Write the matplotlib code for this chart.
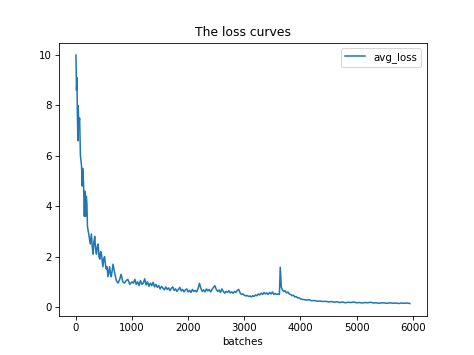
import matplotlib

matplotlib.use("Agg")
import matplotlib.pyplot as plt

early_batches = [
    0, 10, 18, 25, 35, 40, 50, 65, 80, 90,
    100, 110, 120, 135, 150, 160, 170, 185, 195, 205,
    220, 235, 255, 275, 290, 305, 320, 335, 350, 365,
    380, 395, 410, 425, 440, 455, 470, 480, 495, 510,
    525, 540, 555, 570, 585, 600, 615, 630, 660, 690,
    720, 750, 780, 805, 835, 865, 895, 925, 960, 1000,
]
early_loss = [
    10.0, 8.6, 9.1, 7.7, 6.6, 8.0, 7.2, 7.5, 6.0, 5.8,
    5.6, 4.8, 5.5, 4.9, 3.6, 4.6, 3.6, 4.4, 4.1, 3.2,
    3.0, 2.8, 2.5, 2.9, 2.4, 2.1, 2.6, 2.8, 2.3, 2.1,
    2.4, 2.5, 2.0, 1.9, 2.2, 2.1, 1.8, 1.6, 1.9, 2.0,
    1.7, 1.5, 1.6, 1.2, 1.4, 1.6, 1.3, 1.2, 1.7, 1.35,
    1.05, 0.95, 1.1, 1.3, 1.0, 0.95, 1.05, 1.1, 0.9, 1.0,
]

# every 25 batches from 1025 to 3625
mid_batches = list(range(1025, 3650, 25))
mid_loss = [
    0.95, 1.1, 0.9, 1.0, 0.85, 1.05, 0.9, 0.95, 1.12, 0.88,
    1.0, 0.82, 0.95, 0.85, 0.98, 0.8, 0.9, 0.78, 0.85, 0.72,
    0.82, 0.75, 0.68, 0.8, 0.7, 0.76, 0.65, 0.74, 0.8, 0.66,
    0.72, 0.62, 0.7, 0.78, 0.64, 0.7, 0.6, 0.68, 0.72, 0.6,
    0.66, 0.58, 0.7, 0.62, 0.66, 0.6, 0.72, 0.94, 0.75, 0.62,
    0.68, 0.6, 0.72, 0.64, 0.7, 0.6, 0.7, 0.78, 0.85, 0.7,
    0.62, 0.68, 0.58, 0.72, 0.62, 0.55, 0.62, 0.58, 0.65, 0.56,
    0.6, 0.55, 0.62, 0.58, 0.66, 0.7, 0.56, 0.5, 0.52, 0.47,
    0.44, 0.46, 0.42, 0.44, 0.4, 0.45, 0.42, 0.48, 0.45, 0.52,
    0.48, 0.55, 0.5, 0.58, 0.52, 0.56, 0.5, 0.58, 0.52, 0.6,
    0.5, 0.54, 0.5, 0.52, 0.5,
]

# the spike near 3640 and the drop after it
spike_batches = [3640, 3660, 3680, 3700, 3725, 3750, 3775, 3800,
                 3825, 3850, 3875, 3900, 3925, 3950, 3975, 4000]
spike_loss = [1.58, 0.78, 0.68, 0.62, 0.65, 0.56, 0.6, 0.52,
              0.5, 0.45, 0.47, 0.4, 0.42, 0.36, 0.37, 0.32]

# flat tail, every 50 batches
tail_batches = list(range(4050, 6000, 50))
tail_loss = [
    0.3, 0.28, 0.29, 0.25, 0.26, 0.23, 0.24, 0.22, 0.23, 0.2,
    0.22, 0.19, 0.21, 0.18, 0.2, 0.17, 0.19, 0.18, 0.2, 0.17,
    0.18, 0.16, 0.18, 0.17, 0.19, 0.16, 0.17, 0.15, 0.17, 0.16,
    0.15, 0.17, 0.15, 0.16, 0.14, 0.16, 0.15, 0.16, 0.14,
]

batches = early_batches + mid_batches + spike_batches + tail_batches
avg_loss = early_loss + mid_loss + spike_loss + tail_loss
assert len(batches) == len(avg_loss)

fig = plt.figure(figsize=(474 / 74, 355 / 74), dpi=74)
plt.plot(batches, avg_loss, label="avg_loss")
plt.title("The loss curves")
plt.xlabel("batches")
plt.legend(loc="upper right")
plt.savefig("out.png", dpi=74)
plt.close()
